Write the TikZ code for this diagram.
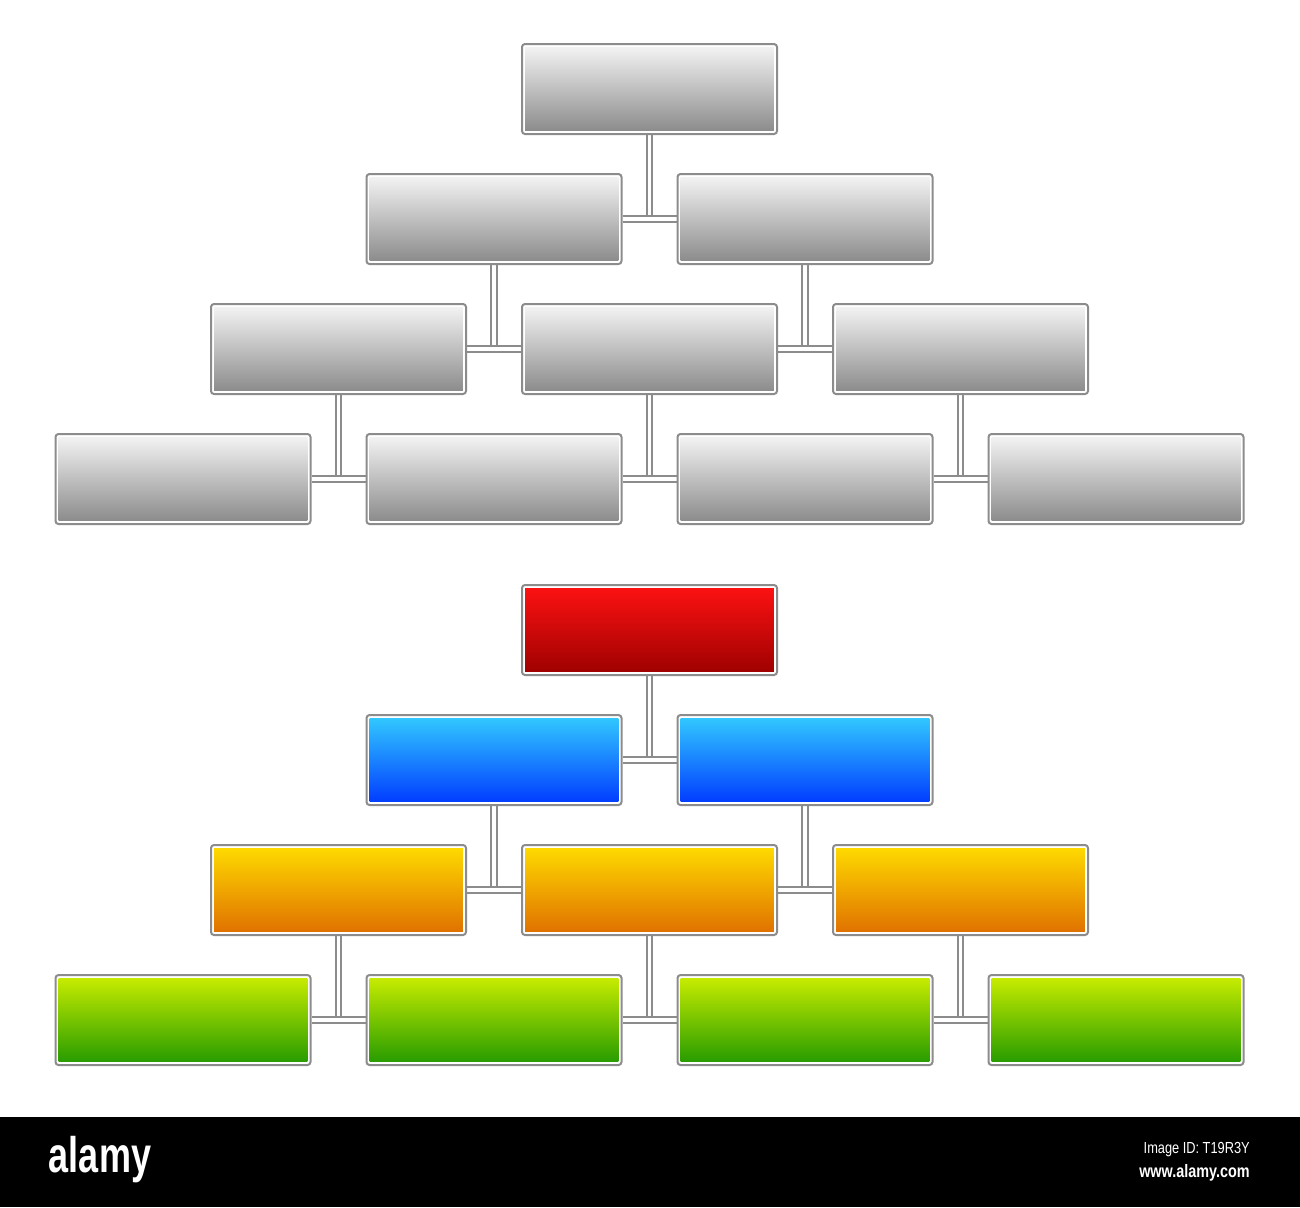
\documentclass[tikz,border=0pt]{standalone}
\usepackage{fontspec}
\setmainfont{Liberation Sans}
\usetikzlibrary{backgrounds}

\definecolor{boxline}{HTML}{8C8C8C}
\definecolor{gryT}{HTML}{F6F6F6}
\definecolor{gryB}{HTML}{888888}
\definecolor{redT}{HTML}{FF1212}
\definecolor{redB}{HTML}{9C0000}
\definecolor{bluT}{HTML}{33CCFF}
\definecolor{bluB}{HTML}{0038FF}
\definecolor{orgT}{HTML}{FFDD00}
\definecolor{orgB}{HTML}{DF6E00}
\definecolor{grnT}{HTML}{CCEE00}
\definecolor{grnB}{HTML}{229900}

\tikzset{
  cell/.style={draw=boxline, line width=1pt, rounded corners=1.5pt, fill=white,
    minimum width=127.5pt, minimum height=45pt, inner sep=0pt,
    path picture={\shade[sharp corners, top color=#1T, bottom color=#1B]
      ([shift={(1.6pt,-1.6pt)}]path picture bounding box.north west) rectangle
      ([shift={(-1.6pt,1.6pt)}]path picture bounding box.south east);}},
  link/.style={draw=boxline, line width=1pt, double=white, double distance=1.6pt}
}

\begin{document}
\begin{tikzpicture}[x=0.5pt, y=-0.5pt]
  \useasboundingbox (0,0) rectangle (1300,1207);
  \begin{scope}[on background layer]
    \fill[white] (0,0) rectangle (1300,1207);
  \end{scope}

  % two trees: gray one on top, coloured one below
  \foreach \t/\dy/\rA/\rB/\rC/\rD in {g/0/gry/gry/gry/gry, c/541/red/blu/org/grn} {
    \node[cell=\rA] (\t1) at (649.5,{89+\dy}) {};
    \node[cell=\rB] (\t21) at (494,{219+\dy}) {};
    \node[cell=\rB] (\t22) at (805,{219+\dy}) {};
    \node[cell=\rC] (\t31) at (338.5,{349+\dy}) {};
    \node[cell=\rC] (\t32) at (649.5,{349+\dy}) {};
    \node[cell=\rC] (\t33) at (960.5,{349+\dy}) {};
    \node[cell=\rD] (\t41) at (183,{479+\dy}) {};
    \node[cell=\rD] (\t42) at (494,{479+\dy}) {};
    \node[cell=\rD] (\t43) at (805,{479+\dy}) {};
    \node[cell=\rD] (\t44) at (1116,{479+\dy}) {};

    \begin{scope}[on background layer]
      \draw[link] (\t1) -- (\t1 |- \t21);
      \draw[link] (\t21) -- (\t22);
      \draw[link] (\t21) -- (\t21 |- \t31);
      \draw[link] (\t22) -- (\t22 |- \t32);
      \draw[link] (\t31) -- (\t32);
      \draw[link] (\t32) -- (\t33);
      \draw[link] (\t31) -- (\t31 |- \t41);
      \draw[link] (\t32) -- (\t32 |- \t42);
      \draw[link] (\t33) -- (\t33 |- \t43);
      \draw[link] (\t41) -- (\t42);
      \draw[link] (\t42) -- (\t43);
      \draw[link] (\t43) -- (\t44);
    \end{scope}
  }

  % stock photo strip
  \fill[black] (0,1117) rectangle (1300,1207);
  \node[text=white, font=\bfseries\fontsize{25}{25}\selectfont, xscale=0.72, transform shape, inner sep=0pt]
    (logo) at (100,1160) {alamy};
  \node[text=white, font=\fontsize{8}{8}\selectfont, xscale=0.8, transform shape, anchor=east, inner sep=0pt]
    (imgid) at (1250,1150) {Image ID: T19R3Y};
  \node[text=white, font=\bfseries\fontsize{9}{9}\selectfont, xscale=0.8, transform shape, anchor=east, inner sep=0pt]
    (site) at (1250,1173) {www.alamy.com};
\end{tikzpicture}
\end{document}
